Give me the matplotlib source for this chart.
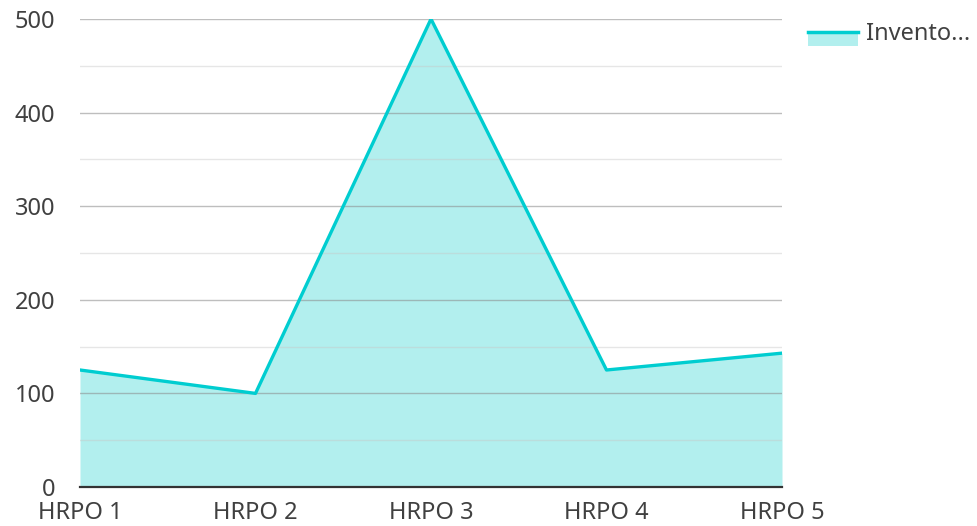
import matplotlib.pyplot as plt
from matplotlib.lines import Line2D
from matplotlib.patches import Rectangle
from matplotlib.legend_handler import HandlerBase

categories = ["HRPO 1", "HRPO 2", "HRPO 3", "HRPO 4", "HRPO 5"]
inventory = [125, 100, 500, 125, 143]
series_name = "Invento..."
y_major = [0, 100, 200, 300, 400, 500]
y_minor = [50, 150, 250, 350, 450]

LINE = "#00cdd0"
FILL = "#b2efee"
TEXT = "#404040"

plt.rcParams.update({
    "font.family": ["Noto Sans", "DejaVu Sans"],
    "font.size": 17,
})


class AreaHandler(HandlerBase):
    # line on top with the filled patch hanging below it
    def create_artists(self, legend, orig, xd, yd, width, height, fontsize, trans):
        mid = yd + height / 2
        rect = Rectangle((xd, mid - height * 0.85), width, height * 0.85,
                         facecolor=FILL, edgecolor="none", transform=trans)
        line = Line2D([xd, xd + width], [mid, mid], color=LINE, linewidth=2.5,
                      transform=trans)
        return [rect, line]


fig = plt.figure(figsize=(9.77, 5.26), dpi=100)
ax = fig.add_axes([80 / 977, 1 - 487 / 526, 702 / 977, 468 / 526])

x = list(range(len(categories)))
ax.fill_between(x, inventory, 0, color=FILL, linewidth=0, zorder=1)
ax.plot(x, inventory, color=LINE, linewidth=2.4, zorder=3)

ax.set_xlim(0, len(categories) - 1)
ax.set_ylim(0, 500)
ax.set_xticks(x)
ax.set_xticklabels(categories, color=TEXT)
ax.set_yticks(y_major)
ax.set_yticks(y_minor, minor=True)
ax.tick_params(axis="y", which="both", length=0, pad=18, labelcolor=TEXT)
ax.tick_params(axis="x", length=0, pad=10)

ax.set_axisbelow("line")
ax.grid(axis="y", which="major", color="#8a8a8a", alpha=0.55, linewidth=1.0)
ax.grid(axis="y", which="minor", color="#c8c8c8", alpha=0.45, linewidth=1.0)

for side in ["top", "right", "left"]:
    ax.spines[side].set_visible(False)
ax.spines["bottom"].set_color("#333333")
ax.spines["bottom"].set_linewidth(1.6)
ax.spines["bottom"].set_zorder(4)

leg = fig.legend(
    [object()], [series_name], handler_map={object: AreaHandler()},
    loc="upper left", bbox_to_anchor=(808 / 977, 1 - 22 / 526),
    frameon=False, borderpad=0, borderaxespad=0,
    handlelength=2.1, handletextpad=0.35,
)
for t in leg.get_texts():
    t.set_color(TEXT)

fig.savefig("out.png", dpi=100)
